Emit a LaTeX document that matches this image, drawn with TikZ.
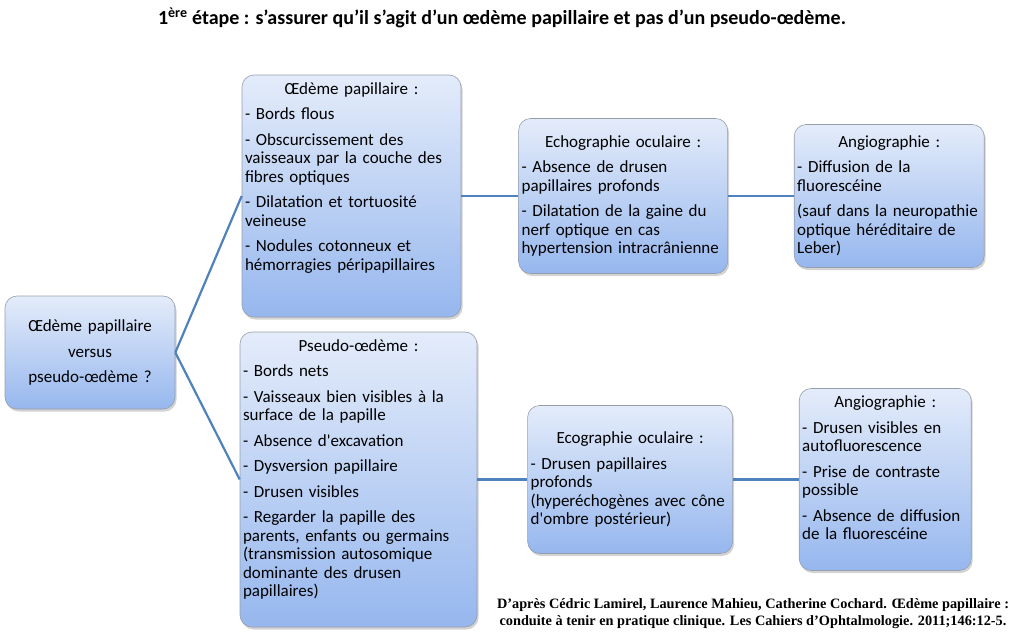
\documentclass[tikz,border=0pt]{standalone}
\usepackage{fontspec}
\setmainfont{Carlito}
\newfontfamily\boxfont{Carlito}
\newfontfamily\citefont{Liberation Serif}
\usetikzlibrary{positioning,shadows}

\definecolor{boxtop}{RGB}{228,236,250}
\definecolor{boxbottom}{RGB}{150,183,238}
\definecolor{boxline}{RGB}{150,158,172}
\definecolor{linkblue}{RGB}{79,129,189}

\newcommand{\boxhead}[1]{{\centering #1\par}}

\begin{document}
\begin{tikzpicture}[x=1pt, y=-1pt,
    box style/.style={draw=boxline, line width=0.6pt, rounded corners=12pt,
      top color=boxtop, bottom color=boxbottom,
      drop shadow={shadow xshift=1.5pt, shadow yshift=-2.5pt, opacity=0.35},
      inner xsep=3pt, inner ysep=4pt, align=left,
      font=\boxfont\fontsize{17}{18.5}\selectfont,
      execute at begin node={\setlength{\parskip}{7pt}}},
    top box/.style={box style, text height=15pt, text depth=#1},
    link style/.style={draw=linkblue, line width=2.2pt}
  ]
  \useasboundingbox (0,0) rectangle (1024,637);

  % Title
  \node[font=\bfseries\fontsize{20}{22}\selectfont] (title) at (502,18)
    {1\textsuperscript{ère} étape : s’assurer qu’il s’agit d’un œdème papillaire et pas d’un pseudo-œdème.};

  % Left column
  \node[box style, align=center, minimum width=170pt, minimum height=113pt, text width=164pt]
    (question) at (90,352.5) {Œdème papillaire\par versus\par pseudo-œdème~?};

  % Middle column
  \node[top box=219pt, text width=213pt] (papil) at (351.5,196)
    {\boxhead{Œdème papillaire :}
     - Bords flous\par
     - Obscurcissement des\\vaisseaux par la couche des\\fibres optiques\par
     - Dilatation et tortuosité\\veineuse\par
     - Nodules cotonneux et\\hémorragies péripapillaires};
  \node[top box=272pt, text width=231pt] (pseudo) at (358.5,479.5)
    {\boxhead{Pseudo-œdème :}
     - Bords nets\par
     - Vaisseaux bien visibles à la\\surface de la papille\par
     - Absence d'excavation\par
     - Dysversion papillaire\par
     - Drusen visibles\par
     - Regarder la papille des\\parents, enfants ou germains\\(transmission autosomique\\dominante des drusen\\papillaires)};

  % Echography
  \node[box style, minimum width=209pt, minimum height=155pt, text width=203pt,
    right=57pt of papil] (echo)
    {\boxhead{Echographie oculaire :}
     - Absence de drusen\\papillaires profonds\par
     - Dilatation de la gaine du\\nerf optique en cas\\hypertension intracrânienne};
  \node[box style, minimum width=205pt, minimum height=148pt, text width=199pt,
    right=50pt of pseudo] (ecog)
    {\boxhead{Ecographie oculaire :}
     - Drusen papillaires\\profonds\\(hyperéchogènes avec cône\\d'ombre postérieur)};

  % Angiography
  \node[box style, minimum width=190pt, minimum height=143pt, text width=184pt,
    right=66pt of echo] (angio)
    {\boxhead{Angiographie :}
     - Diffusion de la\\fluorescéine\par
     (sauf dans la neuropathie\\optique héréditaire de\\Leber)};
  \node[top box=159pt, text width=166pt, right=66pt of ecog] (angiob)
    {\boxhead{Angiographie :}
     - Drusen visibles en\\autofluorescence\par
     - Prise de contraste\\possible\par
     - Absence de diffusion\\de la fluorescéine};

  % Connectors
  \draw[link style] (question.east) -- (papil.west);
  \draw[link style] (question.east) -- (pseudo.west);
  \draw[link style] (papil.east) -- (echo.west);
  \draw[link style] (echo.east) -- (angio.west);
  \draw[link style] (pseudo.east) -- (ecog.west);
  \draw[link style] (ecog.east) -- (angiob.west);

  % Source
  \node[font=\citefont\bfseries\fontsize{14.3}{17}\selectfont, align=center] (source) at (753,613.5)
    {D’après Cédric Lamirel, Laurence Mahieu, Catherine Cochard. Œdème papillaire :\\
     conduite à tenir en pratique clinique. Les Cahiers d’Ophtalmologie. 2011;146:12-5.};

\end{tikzpicture}
\end{document}
